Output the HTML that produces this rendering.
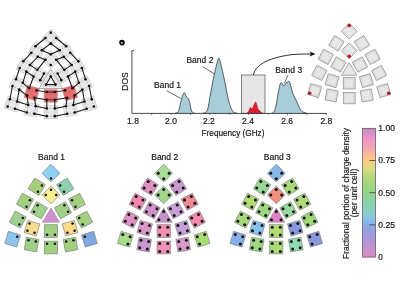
<!DOCTYPE html>
<html><head><meta charset="utf-8"><title>Figure</title>
<style>
html,body{margin:0;padding:0;background:#fff;}
body{width:400px;height:300px;overflow:hidden;}
svg{display:block}
.t{font-family:"Liberation Sans",sans-serif;font-size:8.5px;fill:#161616;stroke:#161616;stroke-width:0.18px;}
.t2{font-family:"Liberation Sans",sans-serif;font-size:8.2px;fill:#161616;stroke:#161616;stroke-width:0.18px;}
.t3{font-family:"Liberation Sans",sans-serif;font-size:8.4px;fill:#161616;stroke:#161616;stroke-width:0.15px;}
</style></head><body>
<svg width="400" height="300" viewBox="0 0 400 300">
<rect width="400" height="300" fill="#fff"/>
<g transform="translate(-0.2 -135.2)">
<rect x="44.6" y="166.8" width="12.8" height="12.8" fill="#e9e9e9" stroke="#a9a9a9" stroke-width="0.4" transform="rotate(45 51 173.2)"/>
<rect x="30.4" y="180.3" width="12.8" height="12.8" fill="#e9e9e9" stroke="#a9a9a9" stroke-width="0.4" transform="rotate(32 36.8 186.7)"/>
<rect x="58.8" y="180.3" width="12.8" height="12.8" fill="#e9e9e9" stroke="#a9a9a9" stroke-width="0.4" transform="rotate(-32 65.2 186.7)"/>
<rect x="44.6" y="188.5" width="12.8" height="12.8" fill="#e9e9e9" stroke="#a9a9a9" stroke-width="0.4" transform="rotate(45 51 194.9)"/>
<rect x="18.6" y="195.3" width="12.8" height="12.8" fill="#e9e9e9" stroke="#a9a9a9" stroke-width="0.4" transform="rotate(28 25 201.7)"/>
<rect x="70.6" y="195.3" width="12.8" height="12.8" fill="#e9e9e9" stroke="#a9a9a9" stroke-width="0.4" transform="rotate(-28 77 201.7)"/>
<rect x="32.6" y="203.8" width="12.8" height="12.8" fill="#e9e9e9" stroke="#a9a9a9" stroke-width="0.4" transform="rotate(29 39 210.2)"/>
<rect x="56.6" y="203.8" width="12.8" height="12.8" fill="#e9e9e9" stroke="#a9a9a9" stroke-width="0.4" transform="rotate(-29 63 210.2)"/>
<rect x="11.4" y="213.2" width="12.8" height="12.8" fill="#e9e9e9" stroke="#a9a9a9" stroke-width="0.4" transform="rotate(27.6 17.8 219.6)"/>
<rect x="77.8" y="213.2" width="12.8" height="12.8" fill="#e9e9e9" stroke="#a9a9a9" stroke-width="0.4" transform="rotate(-27.6 84.2 219.6)"/>
<rect x="25.6" y="221.8" width="12.8" height="12.8" fill="#e36c6c" stroke="#c99a9a" stroke-width="0.4" transform="rotate(16 32 228.2)"/>
<rect x="63.6" y="221.8" width="12.8" height="12.8" fill="#e36c6c" stroke="#c99a9a" stroke-width="0.4" transform="rotate(-16 70 228.2)"/>
<rect x="44.24" y="224.65" width="13.51" height="12.9" fill="#e36c6c" stroke="#c99a9a" stroke-width="0.4" transform="rotate(0 51 231.1)"/>
<rect x="6.2" y="232.8" width="12.8" height="12.8" fill="#e9e9e9" stroke="#a9a9a9" stroke-width="0.4" transform="rotate(17 12.6 239.2)"/>
<rect x="83" y="232.8" width="12.8" height="12.8" fill="#e9e9e9" stroke="#a9a9a9" stroke-width="0.4" transform="rotate(-17 89.4 239.2)"/>
<rect x="25.1" y="238.2" width="12.8" height="12.8" fill="#e9e9e9" stroke="#a9a9a9" stroke-width="0.4" transform="rotate(10 31.5 244.6)"/>
<rect x="64.1" y="238.2" width="12.8" height="12.8" fill="#e9e9e9" stroke="#a9a9a9" stroke-width="0.4" transform="rotate(-10 70.5 244.6)"/>
<rect x="44.24" y="241" width="13.51" height="13" fill="#e9e9e9" stroke="#a9a9a9" stroke-width="0.4" transform="rotate(0 51 247.5)"/>
<polygon points="51,204.4 39.4,223.7 62.6,223.7" fill="#fbfbfb" stroke="#777" stroke-width="0.6"/>
<polygon points="51,207.6 42.4,222 59.6,222" fill="#f2f2f2" stroke="#9a9a9a" stroke-width="0.4"/>
<polygon points="51,167.83 56.37,173.2 51,178.57 45.63,173.2" fill="none" stroke="#7a7a7a" stroke-width="0.5" stroke-dasharray="1.6 1.1"/>
<polygon points="35.59,181.46 42.04,185.49 38.01,191.94 31.56,187.91" fill="none" stroke="#7a7a7a" stroke-width="0.5" stroke-dasharray="1.6 1.1"/>
<polygon points="59.96,185.49 66.41,181.46 70.44,187.91 63.99,191.94" fill="none" stroke="#7a7a7a" stroke-width="0.5" stroke-dasharray="1.6 1.1"/>
<polygon points="51,189.53 56.37,194.9 51,200.27 45.63,194.9" fill="none" stroke="#7a7a7a" stroke-width="0.5" stroke-dasharray="1.6 1.1"/>
<polygon points="23.43,196.56 30.14,200.13 26.57,206.84 19.86,203.27" fill="none" stroke="#7a7a7a" stroke-width="0.5" stroke-dasharray="1.6 1.1"/>
<polygon points="71.86,200.13 78.57,196.56 82.14,203.27 75.43,206.84" fill="none" stroke="#7a7a7a" stroke-width="0.5" stroke-dasharray="1.6 1.1"/>
<polygon points="37.52,205.03 44.17,208.72 40.48,215.37 33.83,211.68" fill="none" stroke="#7a7a7a" stroke-width="0.5" stroke-dasharray="1.6 1.1"/>
<polygon points="57.83,208.72 64.48,205.03 68.17,211.68 61.52,215.37" fill="none" stroke="#7a7a7a" stroke-width="0.5" stroke-dasharray="1.6 1.1"/>
<polygon points="16.19,214.47 22.93,217.99 19.41,224.73 12.67,221.21" fill="none" stroke="#7a7a7a" stroke-width="0.5" stroke-dasharray="1.6 1.1"/>
<polygon points="79.07,217.99 85.81,214.47 89.33,221.21 82.59,224.73" fill="none" stroke="#7a7a7a" stroke-width="0.5" stroke-dasharray="1.6 1.1"/>
<polygon points="10.08,234.46 17.34,236.68 15.12,243.94 7.86,241.72" fill="none" stroke="#7a7a7a" stroke-width="0.5" stroke-dasharray="1.6 1.1"/>
<polygon points="84.66,236.68 91.92,234.46 94.14,241.72 86.88,243.94" fill="none" stroke="#7a7a7a" stroke-width="0.5" stroke-dasharray="1.6 1.1"/>
<polygon points="28.42,240.2 35.9,241.52 34.58,249 27.1,247.68" fill="none" stroke="#7a7a7a" stroke-width="0.5" stroke-dasharray="1.6 1.1"/>
<polygon points="66.1,241.52 73.58,240.2 74.9,247.68 67.42,249" fill="none" stroke="#7a7a7a" stroke-width="0.5" stroke-dasharray="1.6 1.1"/>
<polygon points="46.99,243.64 55.01,243.64 55.01,251.36 46.99,251.36" fill="none" stroke="#7a7a7a" stroke-width="0.5" stroke-dasharray="1.6 1.1"/>
<polygon points="51,178.57 59.96,185.49 51,189.53 42.04,185.49" fill="none" stroke="#161616" stroke-width="1.05" stroke-linejoin="round"/>
<polygon points="19.41,224.73 27.3,230.81 28.42,240.2 17.34,236.68" fill="none" stroke="#161616" stroke-width="1.05" stroke-linejoin="round"/>
<polygon points="74.7,230.81 82.59,224.73 84.66,236.68 73.58,240.2" fill="none" stroke="#161616" stroke-width="1.05" stroke-linejoin="round"/>
<polygon points="38.01,191.94 45.63,194.9 37.52,205.03 30.14,200.13" fill="none" stroke="#161616" stroke-width="1.05" stroke-linejoin="round"/>
<polygon points="34.61,232.9 46.99,234.93 46.99,243.64 35.9,241.52" fill="none" stroke="#161616" stroke-width="1.05" stroke-linejoin="round"/>
<polygon points="68.17,211.68 75.43,206.84 79.07,217.99 72.61,223.5" fill="none" stroke="#161616" stroke-width="1.05" stroke-linejoin="round"/>
<polygon points="56.37,194.9 63.99,191.94 71.86,200.13 64.48,205.03" fill="none" stroke="#161616" stroke-width="1.05" stroke-linejoin="round"/>
<polygon points="26.57,206.84 33.83,211.68 29.39,223.5 22.93,217.99" fill="none" stroke="#161616" stroke-width="1.05" stroke-linejoin="round"/>
<polygon points="55.01,234.93 67.39,232.9 66.1,241.52 55.01,243.64" fill="none" stroke="#161616" stroke-width="1.05" stroke-linejoin="round"/>
<line x1="45.63" y1="173.2" x2="35.59" y2="181.46" stroke="#161616" stroke-width="1.05"/>
<line x1="56.37" y1="173.2" x2="66.41" y2="181.46" stroke="#161616" stroke-width="1.05"/>
<line x1="15.12" y1="243.94" x2="27.1" y2="247.68" stroke="#161616" stroke-width="1.05"/>
<line x1="10.08" y1="234.46" x2="12.67" y2="221.21" stroke="#161616" stroke-width="1.05"/>
<line x1="91.92" y1="234.46" x2="89.33" y2="221.21" stroke="#161616" stroke-width="1.05"/>
<line x1="86.88" y1="243.94" x2="74.9" y2="247.68" stroke="#161616" stroke-width="1.05"/>
<line x1="31.56" y1="187.91" x2="23.43" y2="196.56" stroke="#161616" stroke-width="1.05"/>
<line x1="70.44" y1="187.91" x2="78.57" y2="196.56" stroke="#161616" stroke-width="1.05"/>
<line x1="34.58" y1="249" x2="46.99" y2="251.36" stroke="#161616" stroke-width="1.05"/>
<line x1="16.19" y1="214.47" x2="19.86" y2="203.27" stroke="#161616" stroke-width="1.05"/>
<line x1="85.81" y1="214.47" x2="82.14" y2="203.27" stroke="#161616" stroke-width="1.05"/>
<line x1="67.42" y1="249" x2="55.01" y2="251.36" stroke="#161616" stroke-width="1.05"/>
<line x1="44.17" y1="208.72" x2="40.48" y2="215.37" stroke="#161616" stroke-width="1.05"/>
<line x1="57.83" y1="208.72" x2="61.52" y2="215.37" stroke="#161616" stroke-width="1.05"/>
<line x1="46.99" y1="227.27" x2="55.01" y2="227.27" stroke="#1c1c1c" stroke-width="1.0"/>
<line x1="36.7" y1="225.59" x2="46.99" y2="227.27" stroke="#262626" stroke-width="0.95"/>
<line x1="65.3" y1="225.59" x2="55.01" y2="227.27" stroke="#262626" stroke-width="0.95"/>
<line x1="46.99" y1="234.93" x2="55.01" y2="234.93" stroke="#2c2c2c" stroke-width="0.9"/>
<polygon points="51,211.6 46.2,219.8 55.8,219.8" fill="none" stroke="#161616" stroke-width="1.05" stroke-linejoin="round"/>
<circle cx="51" cy="167.83" r="1.3" fill="#0a0a0a"/>
<circle cx="56.37" cy="173.2" r="1.3" fill="#0a0a0a"/>
<circle cx="45.63" cy="173.2" r="1.3" fill="#0a0a0a"/>
<circle cx="51" cy="178.57" r="1.3" fill="#0a0a0a"/>
<circle cx="35.59" cy="181.46" r="1.3" fill="#0a0a0a"/>
<circle cx="42.04" cy="185.49" r="1.3" fill="#0a0a0a"/>
<circle cx="31.56" cy="187.91" r="1.3" fill="#0a0a0a"/>
<circle cx="38.01" cy="191.94" r="1.3" fill="#0a0a0a"/>
<circle cx="59.96" cy="185.49" r="1.3" fill="#0a0a0a"/>
<circle cx="66.41" cy="181.46" r="1.3" fill="#0a0a0a"/>
<circle cx="63.99" cy="191.94" r="1.3" fill="#0a0a0a"/>
<circle cx="70.44" cy="187.91" r="1.3" fill="#0a0a0a"/>
<circle cx="51" cy="189.53" r="1.3" fill="#0a0a0a"/>
<circle cx="56.37" cy="194.9" r="1.3" fill="#0a0a0a"/>
<circle cx="45.63" cy="194.9" r="1.3" fill="#0a0a0a"/>
<circle cx="51" cy="200.27" r="1.3" fill="#0a0a0a"/>
<circle cx="23.43" cy="196.56" r="1.3" fill="#0a0a0a"/>
<circle cx="30.14" cy="200.13" r="1.3" fill="#0a0a0a"/>
<circle cx="19.86" cy="203.27" r="1.3" fill="#0a0a0a"/>
<circle cx="26.57" cy="206.84" r="1.3" fill="#0a0a0a"/>
<circle cx="71.86" cy="200.13" r="1.3" fill="#0a0a0a"/>
<circle cx="78.57" cy="196.56" r="1.3" fill="#0a0a0a"/>
<circle cx="75.43" cy="206.84" r="1.3" fill="#0a0a0a"/>
<circle cx="82.14" cy="203.27" r="1.3" fill="#0a0a0a"/>
<circle cx="37.52" cy="205.03" r="1.3" fill="#0a0a0a"/>
<circle cx="44.17" cy="208.72" r="1.3" fill="#0a0a0a"/>
<circle cx="33.83" cy="211.68" r="1.3" fill="#0a0a0a"/>
<circle cx="40.48" cy="215.37" r="1.3" fill="#0a0a0a"/>
<circle cx="57.83" cy="208.72" r="1.3" fill="#0a0a0a"/>
<circle cx="64.48" cy="205.03" r="1.3" fill="#0a0a0a"/>
<circle cx="61.52" cy="215.37" r="1.3" fill="#0a0a0a"/>
<circle cx="68.17" cy="211.68" r="1.3" fill="#0a0a0a"/>
<circle cx="16.19" cy="214.47" r="1.3" fill="#0a0a0a"/>
<circle cx="22.93" cy="217.99" r="1.3" fill="#0a0a0a"/>
<circle cx="12.67" cy="221.21" r="1.3" fill="#0a0a0a"/>
<circle cx="19.41" cy="224.73" r="1.3" fill="#0a0a0a"/>
<circle cx="79.07" cy="217.99" r="1.3" fill="#0a0a0a"/>
<circle cx="85.81" cy="214.47" r="1.3" fill="#0a0a0a"/>
<circle cx="82.59" cy="224.73" r="1.3" fill="#0a0a0a"/>
<circle cx="89.33" cy="221.21" r="1.3" fill="#0a0a0a"/>
<circle cx="29.39" cy="223.5" r="1.3" fill="#0a0a0a"/>
<circle cx="36.7" cy="225.59" r="1.3" fill="#0a0a0a"/>
<circle cx="27.3" cy="230.81" r="1.3" fill="#0a0a0a"/>
<circle cx="34.61" cy="232.9" r="1.3" fill="#0a0a0a"/>
<circle cx="65.3" cy="225.59" r="1.3" fill="#0a0a0a"/>
<circle cx="72.61" cy="223.5" r="1.3" fill="#0a0a0a"/>
<circle cx="67.39" cy="232.9" r="1.3" fill="#0a0a0a"/>
<circle cx="74.7" cy="230.81" r="1.3" fill="#0a0a0a"/>
<circle cx="46.99" cy="227.27" r="1.3" fill="#0a0a0a"/>
<circle cx="55.01" cy="227.27" r="1.3" fill="#0a0a0a"/>
<circle cx="46.99" cy="234.93" r="1.3" fill="#0a0a0a"/>
<circle cx="55.01" cy="234.93" r="1.3" fill="#0a0a0a"/>
<circle cx="10.08" cy="234.46" r="1.3" fill="#0a0a0a"/>
<circle cx="17.34" cy="236.68" r="1.3" fill="#0a0a0a"/>
<circle cx="7.86" cy="241.72" r="1.3" fill="#0a0a0a"/>
<circle cx="15.12" cy="243.94" r="1.3" fill="#0a0a0a"/>
<circle cx="84.66" cy="236.68" r="1.3" fill="#0a0a0a"/>
<circle cx="91.92" cy="234.46" r="1.3" fill="#0a0a0a"/>
<circle cx="86.88" cy="243.94" r="1.3" fill="#0a0a0a"/>
<circle cx="94.14" cy="241.72" r="1.3" fill="#0a0a0a"/>
<circle cx="28.42" cy="240.2" r="1.3" fill="#0a0a0a"/>
<circle cx="35.9" cy="241.52" r="1.3" fill="#0a0a0a"/>
<circle cx="27.1" cy="247.68" r="1.3" fill="#0a0a0a"/>
<circle cx="34.58" cy="249" r="1.3" fill="#0a0a0a"/>
<circle cx="66.1" cy="241.52" r="1.3" fill="#0a0a0a"/>
<circle cx="73.58" cy="240.2" r="1.3" fill="#0a0a0a"/>
<circle cx="67.42" cy="249" r="1.3" fill="#0a0a0a"/>
<circle cx="74.9" cy="247.68" r="1.3" fill="#0a0a0a"/>
<circle cx="46.99" cy="243.64" r="1.3" fill="#0a0a0a"/>
<circle cx="55.01" cy="243.64" r="1.3" fill="#0a0a0a"/>
<circle cx="46.99" cy="251.36" r="1.3" fill="#0a0a0a"/>
<circle cx="55.01" cy="251.36" r="1.3" fill="#0a0a0a"/>
<circle cx="51" cy="211.6" r="1.3" fill="#0a0a0a"/>
<circle cx="46.2" cy="219.8" r="1.3" fill="#0a0a0a"/>
<circle cx="55.8" cy="219.8" r="1.3" fill="#0a0a0a"/>
</g>
<rect x="241.4" y="75" width="23.6" height="38.4" fill="#e6e6e6" stroke="#555" stroke-width="0.7"/>
<path d="M175,113.4 C175.42,113.27 176.83,113.25 177.5,112.6 C178.17,111.95 178.47,111.15 179,109.5 C179.53,107.85 180.08,105.07 180.7,102.7 C181.32,100.33 182.08,96.97 182.7,95.3 C183.32,93.63 183.85,92.58 184.4,92.7 C184.95,92.82 185.47,95.15 186,96 C186.53,96.85 187.15,97.25 187.6,97.8 C188.05,98.35 188.3,98.27 188.7,99.3 C189.1,100.33 189.57,102.22 190,104 C190.43,105.78 190.8,108.53 191.3,110 C191.8,111.47 192.3,112.23 193,112.8 C193.7,113.37 195.08,113.3 195.5,113.4 Z" fill="#a9ccd9" stroke="none"/>
<path d="M175,113.4 C175.42,113.27 176.83,113.25 177.5,112.6 C178.17,111.95 178.47,111.15 179,109.5 C179.53,107.85 180.08,105.07 180.7,102.7 C181.32,100.33 182.08,96.97 182.7,95.3 C183.32,93.63 183.85,92.58 184.4,92.7 C184.95,92.82 185.47,95.15 186,96 C186.53,96.85 187.15,97.25 187.6,97.8 C188.05,98.35 188.3,98.27 188.7,99.3 C189.1,100.33 189.57,102.22 190,104 C190.43,105.78 190.8,108.53 191.3,110 C191.8,111.47 192.3,112.23 193,112.8 C193.7,113.37 195.08,113.3 195.5,113.4 " fill="none" stroke="#2e3a40" stroke-width="0.8" stroke-linejoin="round"/>
<path d="M202.5,113.4 C203,113.22 204.62,113.03 205.5,112.3 C206.38,111.57 207.05,111.6 207.8,109 C208.55,106.4 209.05,101.87 210,96.7 C210.95,91.53 212.32,83.65 213.5,78 C214.68,72.35 216.22,66.1 217.1,62.8 C217.98,59.5 218.18,58 218.8,58.2 C219.42,58.4 219.85,60.32 220.8,64 C221.75,67.68 223.27,74.47 224.5,80.3 C225.73,86.13 227.08,94.3 228.2,99 C229.32,103.7 230.23,106.28 231.2,108.5 C232.17,110.72 232.95,111.48 234,112.3 C235.05,113.12 236.92,113.22 237.5,113.4 Z" fill="#a9ccd9" stroke="none"/>
<path d="M202.5,113.4 C203,113.22 204.62,113.03 205.5,112.3 C206.38,111.57 207.05,111.6 207.8,109 C208.55,106.4 209.05,101.87 210,96.7 C210.95,91.53 212.32,83.65 213.5,78 C214.68,72.35 216.22,66.1 217.1,62.8 C217.98,59.5 218.18,58 218.8,58.2 C219.42,58.4 219.85,60.32 220.8,64 C221.75,67.68 223.27,74.47 224.5,80.3 C225.73,86.13 227.08,94.3 228.2,99 C229.32,103.7 230.23,106.28 231.2,108.5 C232.17,110.72 232.95,111.48 234,112.3 C235.05,113.12 236.92,113.22 237.5,113.4 " fill="none" stroke="#2e3a40" stroke-width="0.8" stroke-linejoin="round"/>
<path d="M271.5,113.4 C271.92,113.08 273.25,112.73 274,111.5 C274.75,110.27 275.33,108.92 276,106 C276.67,103.08 277.33,97.57 278,94 C278.67,90.43 279.4,86.43 280,84.6 C280.6,82.77 281.1,82.93 281.6,83 C282.1,83.07 282.55,84.57 283,85 C283.45,85.43 283.8,85.93 284.3,85.6 C284.8,85.27 285.38,83.63 286,83 C286.62,82.37 287.47,82.1 288,81.8 C288.53,81.5 288.82,80.83 289.2,81.2 C289.58,81.57 289.83,82.37 290.3,84 C290.77,85.63 291.38,89 292,91 C292.62,93 293.17,94.17 294,96 C294.83,97.83 296,99.83 297,102 C298,104.17 299,107.33 300,109 C301,110.67 301.83,111.27 303,112 C304.17,112.73 306.33,113.17 307,113.4 Z" fill="#a9ccd9" stroke="none"/>
<path d="M271.5,113.4 C271.92,113.08 273.25,112.73 274,111.5 C274.75,110.27 275.33,108.92 276,106 C276.67,103.08 277.33,97.57 278,94 C278.67,90.43 279.4,86.43 280,84.6 C280.6,82.77 281.1,82.93 281.6,83 C282.1,83.07 282.55,84.57 283,85 C283.45,85.43 283.8,85.93 284.3,85.6 C284.8,85.27 285.38,83.63 286,83 C286.62,82.37 287.47,82.1 288,81.8 C288.53,81.5 288.82,80.83 289.2,81.2 C289.58,81.57 289.83,82.37 290.3,84 C290.77,85.63 291.38,89 292,91 C292.62,93 293.17,94.17 294,96 C294.83,97.83 296,99.83 297,102 C298,104.17 299,107.33 300,109 C301,110.67 301.83,111.27 303,112 C304.17,112.73 306.33,113.17 307,113.4 " fill="none" stroke="#2e3a40" stroke-width="0.8" stroke-linejoin="round"/>
<path d="M246.5,113.4 C246.83,113.08 247.92,112.4 248.5,111.5 C249.08,110.6 249.58,108.58 250,108 C250.42,107.42 250.67,107.83 251,108 C251.33,108.17 251.58,109.33 252,109 C252.42,108.67 252.9,107.17 253.5,106 C254.1,104.83 255.02,102.08 255.6,102 C256.18,101.92 256.6,104.33 257,105.5 C257.4,106.67 257.5,108.08 258,109 C258.5,109.92 259.42,110.4 260,111 C260.58,111.6 260.92,112.2 261.5,112.6 C262.08,113 263.17,113.27 263.5,113.4 Z" fill="#e0202e" stroke="none"/>
<path d="M246.5,113.4 C246.83,113.08 247.92,112.4 248.5,111.5 C249.08,110.6 249.58,108.58 250,108 C250.42,107.42 250.67,107.83 251,108 C251.33,108.17 251.58,109.33 252,109 C252.42,108.67 252.9,107.17 253.5,106 C254.1,104.83 255.02,102.08 255.6,102 C256.18,101.92 256.6,104.33 257,105.5 C257.4,106.67 257.5,108.08 258,109 C258.5,109.92 259.42,110.4 260,111 C260.58,111.6 260.92,112.2 261.5,112.6 C262.08,113 263.17,113.27 263.5,113.4 " fill="none" stroke="#8c1820" stroke-width="0.5" stroke-linejoin="round"/>
<path d="M134,50.7 H131.9 V113.4 H327" fill="none" stroke="#333" stroke-width="0.9"/>
<line x1="151.7" y1="113.4" x2="151.7" y2="115" stroke="#3a3a3a" stroke-width="0.7"/>
<line x1="171.1" y1="113.4" x2="171.1" y2="115" stroke="#3a3a3a" stroke-width="0.7"/>
<line x1="190.5" y1="113.4" x2="190.5" y2="115" stroke="#3a3a3a" stroke-width="0.7"/>
<line x1="209.9" y1="113.4" x2="209.9" y2="115" stroke="#3a3a3a" stroke-width="0.7"/>
<line x1="229.3" y1="113.4" x2="229.3" y2="115" stroke="#3a3a3a" stroke-width="0.7"/>
<line x1="248.7" y1="113.4" x2="248.7" y2="115" stroke="#3a3a3a" stroke-width="0.7"/>
<line x1="268.1" y1="113.4" x2="268.1" y2="115" stroke="#3a3a3a" stroke-width="0.7"/>
<line x1="287.5" y1="113.4" x2="287.5" y2="115" stroke="#3a3a3a" stroke-width="0.7"/>
<line x1="306.9" y1="113.4" x2="306.9" y2="115" stroke="#3a3a3a" stroke-width="0.7"/>
<line x1="326.3" y1="113.4" x2="326.3" y2="115" stroke="#3a3a3a" stroke-width="0.7"/>
<text x="133" y="124.2" text-anchor="middle" class="t">1.8</text>
<text x="171" y="124.2" text-anchor="middle" class="t">2.0</text>
<text x="208.9" y="124.2" text-anchor="middle" class="t">2.2</text>
<text x="248" y="124.2" text-anchor="middle" class="t">2.4</text>
<text x="287.2" y="124.2" text-anchor="middle" class="t">2.6</text>
<text x="326.3" y="124.2" text-anchor="middle" class="t">2.8</text>
<text x="201.6" y="136" class="t" textLength="62.8" lengthAdjust="spacingAndGlyphs">Frequency (GHz)</text>
<text transform="translate(127.6 81.5) rotate(-90)" text-anchor="middle" class="t">DOS</text>
<text x="167.5" y="88.1" text-anchor="middle" class="t">Band 1</text>
<text x="199.9" y="63.1" text-anchor="middle" class="t">Band 2</text>
<text x="288.7" y="72.5" text-anchor="middle" class="t">Band 3</text>
<line x1="166.7" y1="90.7" x2="181" y2="98.6" stroke="#2a2a2a" stroke-width="0.7"/>
<line x1="202.7" y1="66.7" x2="214.7" y2="74.1" stroke="#2a2a2a" stroke-width="0.7"/>
<line x1="288" y1="75" x2="284.4" y2="83.4" stroke="#2a2a2a" stroke-width="0.7"/>
<path d="M253.4,75 C255,66 266,58 292,54.6 C300,54 305,54 311,54" fill="none" stroke="#222" stroke-width="0.95"/>
<path d="M315.5,54 L309.6,51.4 L311,54 L309.6,56.6 Z" fill="#111"/>
<circle cx="122" cy="42.6" r="2.8" fill="#0a0a0a"/>
<text x="122" y="44" text-anchor="middle" font-size="3.8" font-weight="bold" fill="#fff" font-family="Liberation Sans, sans-serif">e</text>
<g transform="translate(349.2 31.2) scale(0.9) translate(-51 -173.2)">
<rect x="44.75" y="166.95" width="12.5" height="12.5" fill="#e7e7e7" stroke="#8c8c8c" stroke-width="0.8" transform="rotate(45 51 173.2)"/><rect x="46.25" y="168.45" width="9.5" height="9.5" fill="none" stroke="#b4b4b4" stroke-width="0.5" stroke-dasharray="0.9 0.7" transform="rotate(45 51 173.2)"/>
<rect x="30.55" y="180.45" width="12.5" height="12.5" fill="#e7e7e7" stroke="#8c8c8c" stroke-width="0.8" transform="rotate(32 36.8 186.7)"/><rect x="32.05" y="181.95" width="9.5" height="9.5" fill="none" stroke="#b4b4b4" stroke-width="0.5" stroke-dasharray="0.9 0.7" transform="rotate(32 36.8 186.7)"/>
<rect x="58.95" y="180.45" width="12.5" height="12.5" fill="#e7e7e7" stroke="#8c8c8c" stroke-width="0.8" transform="rotate(-32 65.2 186.7)"/><rect x="60.45" y="181.95" width="9.5" height="9.5" fill="none" stroke="#b4b4b4" stroke-width="0.5" stroke-dasharray="0.9 0.7" transform="rotate(-32 65.2 186.7)"/>
<rect x="44.75" y="188.65" width="12.5" height="12.5" fill="#e7e7e7" stroke="#8c8c8c" stroke-width="0.8" transform="rotate(45 51 194.9)"/><rect x="46.25" y="190.15" width="9.5" height="9.5" fill="none" stroke="#b4b4b4" stroke-width="0.5" stroke-dasharray="0.9 0.7" transform="rotate(45 51 194.9)"/>
<rect x="18.75" y="195.45" width="12.5" height="12.5" fill="#e7e7e7" stroke="#8c8c8c" stroke-width="0.8" transform="rotate(28 25 201.7)"/><rect x="20.25" y="196.95" width="9.5" height="9.5" fill="none" stroke="#b4b4b4" stroke-width="0.5" stroke-dasharray="0.9 0.7" transform="rotate(28 25 201.7)"/>
<rect x="70.75" y="195.45" width="12.5" height="12.5" fill="#e7e7e7" stroke="#8c8c8c" stroke-width="0.8" transform="rotate(-28 77 201.7)"/><rect x="72.25" y="196.95" width="9.5" height="9.5" fill="none" stroke="#b4b4b4" stroke-width="0.5" stroke-dasharray="0.9 0.7" transform="rotate(-28 77 201.7)"/>
<rect x="32.75" y="203.95" width="12.5" height="12.5" fill="#e7e7e7" stroke="#8c8c8c" stroke-width="0.8" transform="rotate(29 39 210.2)"/><rect x="34.25" y="205.45" width="9.5" height="9.5" fill="none" stroke="#b4b4b4" stroke-width="0.5" stroke-dasharray="0.9 0.7" transform="rotate(29 39 210.2)"/>
<rect x="56.75" y="203.95" width="12.5" height="12.5" fill="#e7e7e7" stroke="#8c8c8c" stroke-width="0.8" transform="rotate(-29 63 210.2)"/><rect x="58.25" y="205.45" width="9.5" height="9.5" fill="none" stroke="#b4b4b4" stroke-width="0.5" stroke-dasharray="0.9 0.7" transform="rotate(-29 63 210.2)"/>
<rect x="11.55" y="213.35" width="12.5" height="12.5" fill="#e7e7e7" stroke="#8c8c8c" stroke-width="0.8" transform="rotate(27.6 17.8 219.6)"/><rect x="13.05" y="214.85" width="9.5" height="9.5" fill="none" stroke="#b4b4b4" stroke-width="0.5" stroke-dasharray="0.9 0.7" transform="rotate(27.6 17.8 219.6)"/>
<rect x="77.95" y="213.35" width="12.5" height="12.5" fill="#e7e7e7" stroke="#8c8c8c" stroke-width="0.8" transform="rotate(-27.6 84.2 219.6)"/><rect x="79.45" y="214.85" width="9.5" height="9.5" fill="none" stroke="#b4b4b4" stroke-width="0.5" stroke-dasharray="0.9 0.7" transform="rotate(-27.6 84.2 219.6)"/>
<rect x="25.75" y="221.95" width="12.5" height="12.5" fill="#e7e7e7" stroke="#8c8c8c" stroke-width="0.8" transform="rotate(16 32 228.2)"/><rect x="27.25" y="223.45" width="9.5" height="9.5" fill="none" stroke="#b4b4b4" stroke-width="0.5" stroke-dasharray="0.9 0.7" transform="rotate(16 32 228.2)"/>
<rect x="63.75" y="221.95" width="12.5" height="12.5" fill="#e7e7e7" stroke="#8c8c8c" stroke-width="0.8" transform="rotate(-16 70 228.2)"/><rect x="65.25" y="223.45" width="9.5" height="9.5" fill="none" stroke="#b4b4b4" stroke-width="0.5" stroke-dasharray="0.9 0.7" transform="rotate(-16 70 228.2)"/>
<rect x="44.4" y="224.8" width="13.19" height="12.6" fill="#e7e7e7" stroke="#8c8c8c" stroke-width="0.8" transform="rotate(0 51 231.1)"/><rect x="45.9" y="226.3" width="10.19" height="9.6" fill="none" stroke="#b4b4b4" stroke-width="0.5" stroke-dasharray="0.9 0.7" transform="rotate(0 51 231.1)"/>
<rect x="6.35" y="232.95" width="12.5" height="12.5" fill="#e7e7e7" stroke="#8c8c8c" stroke-width="0.8" transform="rotate(17 12.6 239.2)"/><rect x="7.85" y="234.45" width="9.5" height="9.5" fill="none" stroke="#b4b4b4" stroke-width="0.5" stroke-dasharray="0.9 0.7" transform="rotate(17 12.6 239.2)"/>
<rect x="83.15" y="232.95" width="12.5" height="12.5" fill="#e7e7e7" stroke="#8c8c8c" stroke-width="0.8" transform="rotate(-17 89.4 239.2)"/><rect x="84.65" y="234.45" width="9.5" height="9.5" fill="none" stroke="#b4b4b4" stroke-width="0.5" stroke-dasharray="0.9 0.7" transform="rotate(-17 89.4 239.2)"/>
<rect x="25.25" y="238.35" width="12.5" height="12.5" fill="#e7e7e7" stroke="#8c8c8c" stroke-width="0.8" transform="rotate(10 31.5 244.6)"/><rect x="26.75" y="239.85" width="9.5" height="9.5" fill="none" stroke="#b4b4b4" stroke-width="0.5" stroke-dasharray="0.9 0.7" transform="rotate(10 31.5 244.6)"/>
<rect x="64.25" y="238.35" width="12.5" height="12.5" fill="#e7e7e7" stroke="#8c8c8c" stroke-width="0.8" transform="rotate(-10 70.5 244.6)"/><rect x="65.75" y="239.85" width="9.5" height="9.5" fill="none" stroke="#b4b4b4" stroke-width="0.5" stroke-dasharray="0.9 0.7" transform="rotate(-10 70.5 244.6)"/>
<rect x="44.4" y="241.15" width="13.19" height="12.7" fill="#e7e7e7" stroke="#8c8c8c" stroke-width="0.8" transform="rotate(0 51 247.5)"/><rect x="45.9" y="242.65" width="10.19" height="9.7" fill="none" stroke="#b4b4b4" stroke-width="0.5" stroke-dasharray="0.9 0.7" transform="rotate(0 51 247.5)"/>
<polygon points="51,208 42.45,222.25 59.55,222.25" fill="#e6e6e6" stroke="#8a8a8a" stroke-width="0.8"/>
<circle cx="51" cy="166.98" r="2" fill="#b5182e"/>
<circle cx="51" cy="201.12" r="2" fill="#b5182e"/>
<circle cx="7.11" cy="242.12" r="2" fill="#b5182e"/>
<circle cx="94.89" cy="242.12" r="2" fill="#b5182e"/>
</g>
<g transform="translate(0 0)">
<rect x="44.7" y="166.9" width="12.6" height="12.6" fill="#8fd0f5" stroke="#707070" stroke-width="0.55" transform="rotate(45 51 173.2)"/>
<rect x="30.5" y="180.4" width="12.6" height="12.6" fill="#a6cf7c" stroke="#707070" stroke-width="0.55" transform="rotate(32 36.8 186.7)"/>
<rect x="58.9" y="180.4" width="12.6" height="12.6" fill="#8fcfae" stroke="#707070" stroke-width="0.55" transform="rotate(-32 65.2 186.7)"/>
<rect x="44.7" y="188.6" width="12.6" height="12.6" fill="#f4ec8e" stroke="#707070" stroke-width="0.55" transform="rotate(45 51 194.9)"/>
<rect x="18.7" y="195.4" width="12.6" height="12.6" fill="#a3cf80" stroke="#707070" stroke-width="0.55" transform="rotate(28 25 201.7)"/>
<rect x="70.7" y="195.4" width="12.6" height="12.6" fill="#a3cf80" stroke="#707070" stroke-width="0.55" transform="rotate(-28 77 201.7)"/>
<rect x="32.7" y="203.9" width="12.6" height="12.6" fill="#9fd088" stroke="#707070" stroke-width="0.55" transform="rotate(29 39 210.2)"/>
<rect x="56.7" y="203.9" width="12.6" height="12.6" fill="#9fd088" stroke="#707070" stroke-width="0.55" transform="rotate(-29 63 210.2)"/>
<rect x="11.5" y="213.3" width="12.6" height="12.6" fill="#a0d090" stroke="#707070" stroke-width="0.55" transform="rotate(27.6 17.8 219.6)"/>
<rect x="77.9" y="213.3" width="12.6" height="12.6" fill="#a0d080" stroke="#707070" stroke-width="0.55" transform="rotate(-27.6 84.2 219.6)"/>
<rect x="25.7" y="221.9" width="12.6" height="12.6" fill="#fadc8c" stroke="#707070" stroke-width="0.55" transform="rotate(16 32 228.2)"/>
<rect x="63.7" y="221.9" width="12.6" height="12.6" fill="#fadc8c" stroke="#707070" stroke-width="0.55" transform="rotate(-16 70 228.2)"/>
<rect x="44.35" y="224.75" width="13.3" height="12.7" fill="#9fd07f" stroke="#707070" stroke-width="0.55" transform="rotate(0 51 231.1)"/>
<rect x="6.3" y="232.9" width="12.6" height="12.6" fill="#8ec5f0" stroke="#707070" stroke-width="0.55" transform="rotate(17 12.6 239.2)"/>
<rect x="83.1" y="232.9" width="12.6" height="12.6" fill="#7fa8e0" stroke="#707070" stroke-width="0.55" transform="rotate(-17 89.4 239.2)"/>
<rect x="25.2" y="238.3" width="12.6" height="12.6" fill="#a0d088" stroke="#707070" stroke-width="0.55" transform="rotate(10 31.5 244.6)"/>
<rect x="64.2" y="238.3" width="12.6" height="12.6" fill="#a0d080" stroke="#707070" stroke-width="0.55" transform="rotate(-10 70.5 244.6)"/>
<rect x="44.35" y="241.1" width="13.3" height="12.8" fill="#9fd07f" stroke="#707070" stroke-width="0.55" transform="rotate(0 51 247.5)"/>
<polygon points="51,208 42.45,222.25 59.55,222.25" fill="#cf8fd0" stroke="#6b6b6b" stroke-width="0.45"/>
<circle cx="51" cy="178.43" r="1.25" fill="#111"/>
<circle cx="41.9" cy="185.52" r="1.25" fill="#111"/>
<circle cx="37.98" cy="191.8" r="1.25" fill="#111"/>
<circle cx="60.1" cy="185.52" r="1.25" fill="#111"/>
<circle cx="64.02" cy="191.8" r="1.25" fill="#111"/>
<circle cx="51" cy="189.67" r="1.25" fill="#111"/>
<circle cx="45.77" cy="194.9" r="1.25" fill="#111"/>
<circle cx="56.23" cy="194.9" r="1.25" fill="#111"/>
<circle cx="30" cy="200.17" r="1.25" fill="#111"/>
<circle cx="26.53" cy="206.7" r="1.25" fill="#111"/>
<circle cx="72" cy="200.17" r="1.25" fill="#111"/>
<circle cx="75.47" cy="206.7" r="1.25" fill="#111"/>
<circle cx="37.56" cy="205.17" r="1.25" fill="#111"/>
<circle cx="33.97" cy="211.64" r="1.25" fill="#111"/>
<circle cx="64.44" cy="205.17" r="1.25" fill="#111"/>
<circle cx="68.03" cy="211.64" r="1.25" fill="#111"/>
<circle cx="22.79" cy="218.04" r="1.25" fill="#111"/>
<circle cx="19.36" cy="224.59" r="1.25" fill="#111"/>
<circle cx="79.21" cy="218.04" r="1.25" fill="#111"/>
<circle cx="82.64" cy="224.59" r="1.25" fill="#111"/>
<circle cx="29.46" cy="223.62" r="1.25" fill="#111"/>
<circle cx="27.42" cy="230.74" r="1.25" fill="#111"/>
<circle cx="34.54" cy="232.78" r="1.25" fill="#111"/>
<circle cx="72.54" cy="223.62" r="1.25" fill="#111"/>
<circle cx="74.58" cy="230.74" r="1.25" fill="#111"/>
<circle cx="67.46" cy="232.78" r="1.25" fill="#111"/>
<circle cx="47.09" cy="234.83" r="1.25" fill="#111"/>
<circle cx="54.91" cy="234.83" r="1.25" fill="#111"/>
<circle cx="17.22" cy="236.74" r="1.25" fill="#111"/>
<circle cx="84.78" cy="236.74" r="1.25" fill="#111"/>
<circle cx="28.5" cy="240.31" r="1.25" fill="#111"/>
<circle cx="35.79" cy="241.6" r="1.25" fill="#111"/>
<circle cx="73.5" cy="240.31" r="1.25" fill="#111"/>
<circle cx="66.21" cy="241.6" r="1.25" fill="#111"/>
<circle cx="47.09" cy="243.74" r="1.25" fill="#111"/>
<circle cx="54.91" cy="243.74" r="1.25" fill="#111"/>
</g>
<g transform="translate(112.7 0)">
<rect x="44.7" y="166.9" width="12.6" height="12.6" fill="#a8dc98" stroke="#707070" stroke-width="0.55" transform="rotate(45 51 173.2)"/>
<rect x="30.5" y="180.4" width="12.6" height="12.6" fill="#e090c0" stroke="#707070" stroke-width="0.55" transform="rotate(32 36.8 186.7)"/>
<rect x="58.9" y="180.4" width="12.6" height="12.6" fill="#c898d0" stroke="#707070" stroke-width="0.55" transform="rotate(-32 65.2 186.7)"/>
<rect x="44.7" y="188.6" width="12.6" height="12.6" fill="#a0d888" stroke="#707070" stroke-width="0.55" transform="rotate(45 51 194.9)"/>
<rect x="18.7" y="195.4" width="12.6" height="12.6" fill="#f088b0" stroke="#707070" stroke-width="0.55" transform="rotate(28 25 201.7)"/>
<rect x="70.7" y="195.4" width="12.6" height="12.6" fill="#f08898" stroke="#707070" stroke-width="0.55" transform="rotate(-28 77 201.7)"/>
<rect x="32.7" y="203.9" width="12.6" height="12.6" fill="#d090c8" stroke="#707070" stroke-width="0.55" transform="rotate(29 39 210.2)"/>
<rect x="56.7" y="203.9" width="12.6" height="12.6" fill="#c8a0d8" stroke="#707070" stroke-width="0.55" transform="rotate(-29 63 210.2)"/>
<rect x="11.5" y="213.3" width="12.6" height="12.6" fill="#e090c0" stroke="#707070" stroke-width="0.55" transform="rotate(27.6 17.8 219.6)"/>
<rect x="77.9" y="213.3" width="12.6" height="12.6" fill="#f088b0" stroke="#707070" stroke-width="0.55" transform="rotate(-27.6 84.2 219.6)"/>
<rect x="25.7" y="221.9" width="12.6" height="12.6" fill="#d898c8" stroke="#707070" stroke-width="0.55" transform="rotate(16 32 228.2)"/>
<rect x="63.7" y="221.9" width="12.6" height="12.6" fill="#c8a0d8" stroke="#707070" stroke-width="0.55" transform="rotate(-16 70 228.2)"/>
<rect x="44.35" y="224.75" width="13.3" height="12.7" fill="#f090b0" stroke="#707070" stroke-width="0.55" transform="rotate(0 51 231.1)"/>
<rect x="6.3" y="232.9" width="12.6" height="12.6" fill="#a8dc88" stroke="#707070" stroke-width="0.55" transform="rotate(17 12.6 239.2)"/>
<rect x="83.1" y="232.9" width="12.6" height="12.6" fill="#a8dc70" stroke="#707070" stroke-width="0.55" transform="rotate(-17 89.4 239.2)"/>
<rect x="25.2" y="238.3" width="12.6" height="12.6" fill="#c898d0" stroke="#707070" stroke-width="0.55" transform="rotate(10 31.5 244.6)"/>
<rect x="64.2" y="238.3" width="12.6" height="12.6" fill="#d898c8" stroke="#707070" stroke-width="0.55" transform="rotate(-10 70.5 244.6)"/>
<rect x="44.35" y="241.1" width="13.3" height="12.8" fill="#f090b8" stroke="#707070" stroke-width="0.55" transform="rotate(0 51 247.5)"/>
<polygon points="51,208 42.45,222.25 59.55,222.25" fill="#c890c8" stroke="#6b6b6b" stroke-width="0.45"/>
<circle cx="45.56" cy="173.2" r="1.5" fill="#111"/>
<circle cx="56.44" cy="173.2" r="1.5" fill="#111"/>
<circle cx="51" cy="178.64" r="1.5" fill="#111"/>
<circle cx="35.58" cy="181.39" r="1.5" fill="#111"/>
<circle cx="42.11" cy="185.48" r="1.5" fill="#111"/>
<circle cx="31.49" cy="187.92" r="1.5" fill="#111"/>
<circle cx="38.02" cy="192.01" r="1.5" fill="#111"/>
<circle cx="66.42" cy="181.39" r="1.5" fill="#111"/>
<circle cx="59.89" cy="185.48" r="1.5" fill="#111"/>
<circle cx="70.51" cy="187.92" r="1.5" fill="#111"/>
<circle cx="63.98" cy="192.01" r="1.5" fill="#111"/>
<circle cx="51" cy="189.46" r="1.5" fill="#111"/>
<circle cx="45.56" cy="194.9" r="1.5" fill="#111"/>
<circle cx="56.44" cy="194.9" r="1.5" fill="#111"/>
<circle cx="23.41" cy="196.49" r="1.5" fill="#111"/>
<circle cx="30.21" cy="200.11" r="1.5" fill="#111"/>
<circle cx="19.79" cy="203.29" r="1.5" fill="#111"/>
<circle cx="26.59" cy="206.91" r="1.5" fill="#111"/>
<circle cx="78.59" cy="196.49" r="1.5" fill="#111"/>
<circle cx="71.79" cy="200.11" r="1.5" fill="#111"/>
<circle cx="82.21" cy="203.29" r="1.5" fill="#111"/>
<circle cx="75.41" cy="206.91" r="1.5" fill="#111"/>
<circle cx="37.5" cy="204.97" r="1.5" fill="#111"/>
<circle cx="44.23" cy="208.7" r="1.5" fill="#111"/>
<circle cx="33.77" cy="211.7" r="1.5" fill="#111"/>
<circle cx="40.5" cy="215.43" r="1.5" fill="#111"/>
<circle cx="64.5" cy="204.97" r="1.5" fill="#111"/>
<circle cx="57.77" cy="208.7" r="1.5" fill="#111"/>
<circle cx="68.23" cy="211.7" r="1.5" fill="#111"/>
<circle cx="61.5" cy="215.43" r="1.5" fill="#111"/>
<circle cx="16.17" cy="214.4" r="1.5" fill="#111"/>
<circle cx="23" cy="217.97" r="1.5" fill="#111"/>
<circle cx="12.6" cy="221.23" r="1.5" fill="#111"/>
<circle cx="19.43" cy="224.8" r="1.5" fill="#111"/>
<circle cx="85.83" cy="214.4" r="1.5" fill="#111"/>
<circle cx="79" cy="217.97" r="1.5" fill="#111"/>
<circle cx="89.4" cy="221.23" r="1.5" fill="#111"/>
<circle cx="82.57" cy="224.8" r="1.5" fill="#111"/>
<circle cx="29.36" cy="223.44" r="1.5" fill="#111"/>
<circle cx="36.76" cy="225.56" r="1.5" fill="#111"/>
<circle cx="27.24" cy="230.84" r="1.5" fill="#111"/>
<circle cx="34.64" cy="232.96" r="1.5" fill="#111"/>
<circle cx="72.64" cy="223.44" r="1.5" fill="#111"/>
<circle cx="65.24" cy="225.56" r="1.5" fill="#111"/>
<circle cx="74.76" cy="230.84" r="1.5" fill="#111"/>
<circle cx="67.36" cy="232.96" r="1.5" fill="#111"/>
<circle cx="46.94" cy="227.22" r="1.5" fill="#111"/>
<circle cx="55.06" cy="227.22" r="1.5" fill="#111"/>
<circle cx="46.94" cy="234.98" r="1.5" fill="#111"/>
<circle cx="55.06" cy="234.98" r="1.5" fill="#111"/>
<circle cx="10.04" cy="234.39" r="1.5" fill="#111"/>
<circle cx="17.41" cy="236.64" r="1.5" fill="#111"/>
<circle cx="15.16" cy="244.01" r="1.5" fill="#111"/>
<circle cx="91.96" cy="234.39" r="1.5" fill="#111"/>
<circle cx="84.59" cy="236.64" r="1.5" fill="#111"/>
<circle cx="86.84" cy="244.01" r="1.5" fill="#111"/>
<circle cx="28.38" cy="240.14" r="1.5" fill="#111"/>
<circle cx="35.96" cy="241.48" r="1.5" fill="#111"/>
<circle cx="27.04" cy="247.72" r="1.5" fill="#111"/>
<circle cx="34.62" cy="249.06" r="1.5" fill="#111"/>
<circle cx="73.62" cy="240.14" r="1.5" fill="#111"/>
<circle cx="66.04" cy="241.48" r="1.5" fill="#111"/>
<circle cx="74.96" cy="247.72" r="1.5" fill="#111"/>
<circle cx="67.38" cy="249.06" r="1.5" fill="#111"/>
<circle cx="46.94" cy="243.59" r="1.5" fill="#111"/>
<circle cx="55.06" cy="243.59" r="1.5" fill="#111"/>
<circle cx="46.94" cy="251.41" r="1.5" fill="#111"/>
<circle cx="55.06" cy="251.41" r="1.5" fill="#111"/>
<circle cx="51" cy="211.6" r="1.5" fill="#111"/>
<circle cx="46.2" cy="219.8" r="1.5" fill="#111"/>
<circle cx="55.8" cy="219.8" r="1.5" fill="#111"/>
</g>
<g transform="translate(225.25 0)">
<rect x="44.7" y="166.9" width="12.6" height="12.6" fill="#88b8e8" stroke="#707070" stroke-width="0.55" transform="rotate(45 51 173.2)"/>
<rect x="30.5" y="180.4" width="12.6" height="12.6" fill="#98d890" stroke="#707070" stroke-width="0.55" transform="rotate(32 36.8 186.7)"/>
<rect x="58.9" y="180.4" width="12.6" height="12.6" fill="#a8d878" stroke="#707070" stroke-width="0.55" transform="rotate(-32 65.2 186.7)"/>
<rect x="44.7" y="188.6" width="12.6" height="12.6" fill="#f09080" stroke="#707070" stroke-width="0.55" transform="rotate(45 51 194.9)"/>
<rect x="18.7" y="195.4" width="12.6" height="12.6" fill="#b0dc70" stroke="#707070" stroke-width="0.55" transform="rotate(28 25 201.7)"/>
<rect x="70.7" y="195.4" width="12.6" height="12.6" fill="#b0dc78" stroke="#707070" stroke-width="0.55" transform="rotate(-28 77 201.7)"/>
<rect x="32.7" y="203.9" width="12.6" height="12.6" fill="#a0d880" stroke="#707070" stroke-width="0.55" transform="rotate(29 39 210.2)"/>
<rect x="56.7" y="203.9" width="12.6" height="12.6" fill="#98d8a0" stroke="#707070" stroke-width="0.55" transform="rotate(-29 63 210.2)"/>
<rect x="11.5" y="213.3" width="12.6" height="12.6" fill="#a8d878" stroke="#707070" stroke-width="0.55" transform="rotate(27.6 17.8 219.6)"/>
<rect x="77.9" y="213.3" width="12.6" height="12.6" fill="#a0d878" stroke="#707070" stroke-width="0.55" transform="rotate(-27.6 84.2 219.6)"/>
<rect x="25.7" y="221.9" width="12.6" height="12.6" fill="#88c0f0" stroke="#707070" stroke-width="0.55" transform="rotate(16 32 228.2)"/>
<rect x="63.7" y="221.9" width="12.6" height="12.6" fill="#8898e0" stroke="#707070" stroke-width="0.55" transform="rotate(-16 70 228.2)"/>
<rect x="44.35" y="224.75" width="13.3" height="12.7" fill="#b0dc70" stroke="#707070" stroke-width="0.55" transform="rotate(0 51 231.1)"/>
<rect x="6.3" y="232.9" width="12.6" height="12.6" fill="#88b0e8" stroke="#707070" stroke-width="0.55" transform="rotate(17 12.6 239.2)"/>
<rect x="83.1" y="232.9" width="12.6" height="12.6" fill="#8898d8" stroke="#707070" stroke-width="0.55" transform="rotate(-17 89.4 239.2)"/>
<rect x="25.2" y="238.3" width="12.6" height="12.6" fill="#a0d880" stroke="#707070" stroke-width="0.55" transform="rotate(10 31.5 244.6)"/>
<rect x="64.2" y="238.3" width="12.6" height="12.6" fill="#90dcb0" stroke="#707070" stroke-width="0.55" transform="rotate(-10 70.5 244.6)"/>
<rect x="44.35" y="241.1" width="13.3" height="12.8" fill="#a8dc78" stroke="#707070" stroke-width="0.55" transform="rotate(0 51 247.5)"/>
<polygon points="51,208 42.45,222.25 59.55,222.25" fill="#e080c0" stroke="#6b6b6b" stroke-width="0.45"/>
<circle cx="45.56" cy="173.2" r="1.5" fill="#111"/>
<circle cx="56.44" cy="173.2" r="1.5" fill="#111"/>
<circle cx="51" cy="178.64" r="1.5" fill="#111"/>
<circle cx="35.58" cy="181.39" r="1.5" fill="#111"/>
<circle cx="42.11" cy="185.48" r="1.5" fill="#111"/>
<circle cx="31.49" cy="187.92" r="1.5" fill="#111"/>
<circle cx="38.02" cy="192.01" r="1.5" fill="#111"/>
<circle cx="66.42" cy="181.39" r="1.5" fill="#111"/>
<circle cx="59.89" cy="185.48" r="1.5" fill="#111"/>
<circle cx="70.51" cy="187.92" r="1.5" fill="#111"/>
<circle cx="63.98" cy="192.01" r="1.5" fill="#111"/>
<circle cx="51" cy="189.46" r="1.5" fill="#111"/>
<circle cx="45.56" cy="194.9" r="1.5" fill="#111"/>
<circle cx="56.44" cy="194.9" r="1.5" fill="#111"/>
<circle cx="23.41" cy="196.49" r="1.5" fill="#111"/>
<circle cx="30.21" cy="200.11" r="1.5" fill="#111"/>
<circle cx="19.79" cy="203.29" r="1.5" fill="#111"/>
<circle cx="26.59" cy="206.91" r="1.5" fill="#111"/>
<circle cx="78.59" cy="196.49" r="1.5" fill="#111"/>
<circle cx="71.79" cy="200.11" r="1.5" fill="#111"/>
<circle cx="82.21" cy="203.29" r="1.5" fill="#111"/>
<circle cx="75.41" cy="206.91" r="1.5" fill="#111"/>
<circle cx="37.5" cy="204.97" r="1.5" fill="#111"/>
<circle cx="44.23" cy="208.7" r="1.5" fill="#111"/>
<circle cx="33.77" cy="211.7" r="1.5" fill="#111"/>
<circle cx="40.5" cy="215.43" r="1.5" fill="#111"/>
<circle cx="64.5" cy="204.97" r="1.5" fill="#111"/>
<circle cx="57.77" cy="208.7" r="1.5" fill="#111"/>
<circle cx="68.23" cy="211.7" r="1.5" fill="#111"/>
<circle cx="61.5" cy="215.43" r="1.5" fill="#111"/>
<circle cx="16.17" cy="214.4" r="1.5" fill="#111"/>
<circle cx="23" cy="217.97" r="1.5" fill="#111"/>
<circle cx="12.6" cy="221.23" r="1.5" fill="#111"/>
<circle cx="19.43" cy="224.8" r="1.5" fill="#111"/>
<circle cx="85.83" cy="214.4" r="1.5" fill="#111"/>
<circle cx="79" cy="217.97" r="1.5" fill="#111"/>
<circle cx="89.4" cy="221.23" r="1.5" fill="#111"/>
<circle cx="82.57" cy="224.8" r="1.5" fill="#111"/>
<circle cx="29.36" cy="223.44" r="1.5" fill="#111"/>
<circle cx="36.76" cy="225.56" r="1.5" fill="#111"/>
<circle cx="27.24" cy="230.84" r="1.5" fill="#111"/>
<circle cx="34.64" cy="232.96" r="1.5" fill="#111"/>
<circle cx="72.64" cy="223.44" r="1.5" fill="#111"/>
<circle cx="65.24" cy="225.56" r="1.5" fill="#111"/>
<circle cx="74.76" cy="230.84" r="1.5" fill="#111"/>
<circle cx="67.36" cy="232.96" r="1.5" fill="#111"/>
<circle cx="46.94" cy="227.22" r="1.5" fill="#111"/>
<circle cx="55.06" cy="227.22" r="1.5" fill="#111"/>
<circle cx="46.94" cy="234.98" r="1.5" fill="#111"/>
<circle cx="55.06" cy="234.98" r="1.5" fill="#111"/>
<circle cx="10.04" cy="234.39" r="1.5" fill="#111"/>
<circle cx="17.41" cy="236.64" r="1.5" fill="#111"/>
<circle cx="15.16" cy="244.01" r="1.5" fill="#111"/>
<circle cx="91.96" cy="234.39" r="1.5" fill="#111"/>
<circle cx="84.59" cy="236.64" r="1.5" fill="#111"/>
<circle cx="86.84" cy="244.01" r="1.5" fill="#111"/>
<circle cx="28.38" cy="240.14" r="1.5" fill="#111"/>
<circle cx="35.96" cy="241.48" r="1.5" fill="#111"/>
<circle cx="27.04" cy="247.72" r="1.5" fill="#111"/>
<circle cx="34.62" cy="249.06" r="1.5" fill="#111"/>
<circle cx="73.62" cy="240.14" r="1.5" fill="#111"/>
<circle cx="66.04" cy="241.48" r="1.5" fill="#111"/>
<circle cx="74.96" cy="247.72" r="1.5" fill="#111"/>
<circle cx="67.38" cy="249.06" r="1.5" fill="#111"/>
<circle cx="46.94" cy="243.59" r="1.5" fill="#111"/>
<circle cx="55.06" cy="243.59" r="1.5" fill="#111"/>
<circle cx="46.94" cy="251.41" r="1.5" fill="#111"/>
<circle cx="55.06" cy="251.41" r="1.5" fill="#111"/>
<circle cx="51" cy="211.6" r="1.5" fill="#111"/>
<circle cx="46.2" cy="219.8" r="1.5" fill="#111"/>
<circle cx="55.8" cy="219.8" r="1.5" fill="#111"/>
</g>
<text x="51.5" y="159.9" text-anchor="middle" class="t">Band 1</text>
<text x="164.7" y="159.9" text-anchor="middle" class="t">Band 2</text>
<text x="277.3" y="159.9" text-anchor="middle" class="t">Band 3</text>
<defs><linearGradient id="cb" x1="0" y1="0" x2="0" y2="1"><stop offset="0" stop-color="#c48cc4"/><stop offset="0.04" stop-color="#d890cc"/><stop offset="0.09" stop-color="#f098c8"/><stop offset="0.16" stop-color="#f4a8b0"/><stop offset="0.21" stop-color="#f8be92"/><stop offset="0.26" stop-color="#f8d080"/><stop offset="0.31" stop-color="#dcdc80"/><stop offset="0.37" stop-color="#b8d87c"/><stop offset="0.45" stop-color="#9ed480"/><stop offset="0.52" stop-color="#90d490"/><stop offset="0.6" stop-color="#88d2b4"/><stop offset="0.66" stop-color="#88cfd0"/><stop offset="0.71" stop-color="#88c0e8"/><stop offset="0.76" stop-color="#88a8e4"/><stop offset="0.82" stop-color="#9c9cdc"/><stop offset="0.89" stop-color="#b894d4"/><stop offset="0.95" stop-color="#d08ecc"/><stop offset="1" stop-color="#d88cc4"/></linearGradient></defs>
<rect x="362.6" y="128.3" width="12.9" height="128.8" fill="url(#cb)" stroke="#5a4a5a" stroke-width="0.7"/>
<line x1="369.4" y1="160.5" x2="375.5" y2="160.5" stroke="#3a3a3a" stroke-width="0.8"/>
<line x1="369.4" y1="192.7" x2="375.5" y2="192.7" stroke="#3a3a3a" stroke-width="0.8"/>
<line x1="369.4" y1="224.9" x2="375.5" y2="224.9" stroke="#3a3a3a" stroke-width="0.8"/>
<text x="378.3" y="131.2" class="t2" textLength="16.6" lengthAdjust="spacingAndGlyphs">1.00</text>
<text x="378.3" y="163.4" class="t2" textLength="16.6" lengthAdjust="spacingAndGlyphs">0.75</text>
<text x="378.3" y="195.6" class="t2" textLength="16.6" lengthAdjust="spacingAndGlyphs">0.50</text>
<text x="378.3" y="227.8" class="t2" textLength="16.6" lengthAdjust="spacingAndGlyphs">0.25</text>
<text x="378.3" y="259.9" class="t2">0</text>
<text transform="translate(348.6 193.5) rotate(-90)" text-anchor="middle" class="t3">Fractional portion of charge density</text>
<text transform="translate(357.4 193) rotate(-90)" text-anchor="middle" class="t3">(per unit cell)</text>
</svg>
</body></html>
